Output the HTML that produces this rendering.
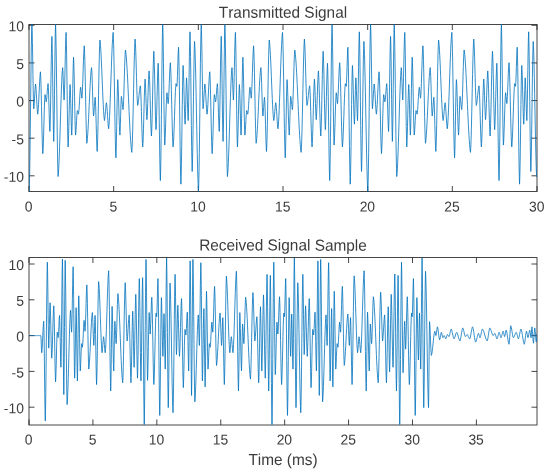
<!DOCTYPE html>
<html><head><meta charset="utf-8"><title>Signals</title>
<style>
html,body{margin:0;padding:0;background:#fff;}
body{width:550px;height:473px;position:relative;overflow:hidden;font-family:"Liberation Sans",sans-serif;}
svg text{font-family:"Liberation Sans",sans-serif;text-rendering:geometricPrecision;font-kerning:none;}
</style></head><body>
<svg width="550" height="473" viewBox="0 0 550 473" style="position:absolute;left:0;top:0"><defs><clipPath id="c1"><rect x="29.0" y="24.5" width="508.0" height="167.0"/></clipPath><clipPath id="c2"><rect x="29.0" y="257.5" width="508.0" height="167.5"/></clipPath></defs><rect x="29.0" y="24.5" width="508.0" height="167.0" fill="none" stroke="#262626" stroke-width="1" opacity="0.85"/><path d="M29.00,191.5v-5.5 M29.00,24.5v5.5 M113.66,191.5v-5.5 M113.66,24.5v5.5 M198.33,191.5v-5.5 M198.33,24.5v5.5 M283.00,191.5v-5.5 M283.00,24.5v5.5 M367.66,191.5v-5.5 M367.66,24.5v5.5 M452.32,191.5v-5.5 M452.32,24.5v5.5 M536.99,191.5v-5.5 M536.99,24.5v5.5 M29.0,175.80h5.5 M537.0,175.80h-5.5 M29.0,138.18h5.5 M537.0,138.18h-5.5 M29.0,100.55h5.5 M537.0,100.55h-5.5 M29.0,62.92h5.5 M537.0,62.92h-5.5 M29.0,25.30h5.5 M537.0,25.30h-5.5 " stroke="#262626" stroke-width="1" fill="none" opacity="0.85"/><rect x="29.0" y="257.5" width="508.0" height="167.5" fill="none" stroke="#262626" stroke-width="1" opacity="0.85"/><path d="M29.00,425.0v-5.5 M29.00,257.5v5.5 M92.91,425.0v-5.5 M92.91,257.5v5.5 M156.83,425.0v-5.5 M156.83,257.5v5.5 M220.75,425.0v-5.5 M220.75,257.5v5.5 M284.66,425.0v-5.5 M284.66,257.5v5.5 M348.57,425.0v-5.5 M348.57,257.5v5.5 M412.49,425.0v-5.5 M412.49,257.5v5.5 M476.40,425.0v-5.5 M476.40,257.5v5.5 M29.0,407.20h5.5 M537.0,407.20h-5.5 M29.0,371.40h5.5 M537.0,371.40h-5.5 M29.0,335.60h5.5 M537.0,335.60h-5.5 M29.0,299.80h5.5 M537.0,299.80h-5.5 M29.0,264.00h5.5 M537.0,264.00h-5.5 " stroke="#262626" stroke-width="1" fill="none" opacity="0.85"/><polyline clip-path="url(#c1)" points="29.18,191.45 29.45,183.56 29.73,170.21 30.00,152.22 30.27,130.86 30.55,107.73 30.82,84.59 31.09,63.23 31.36,45.24 31.64,31.89 31.91,24.00 32.17,30.57 32.43,42.43 32.69,57.95 32.95,74.78 33.21,90.30 33.47,102.16 33.73,108.73 33.99,106.81 34.25,103.35 34.51,98.82 34.77,93.91 35.03,89.38 35.29,85.92 35.55,84.00 35.82,85.94 36.09,89.36 36.36,93.92 36.64,99.09 36.91,104.27 37.18,108.82 37.45,112.25 37.73,114.18 38.00,112.19 38.27,108.81 38.55,104.26 38.82,98.85 39.09,93.00 39.36,87.15 39.64,81.74 39.91,77.19 40.18,73.81 40.45,71.82 40.72,76.27 40.98,83.97 41.24,94.32 41.51,106.39 41.77,119.06 42.03,131.14 42.29,141.48 42.56,149.18 42.82,153.64 43.09,149.85 43.36,143.15 43.64,134.22 43.91,124.09 44.18,113.96 44.45,105.03 44.73,98.34 45.00,94.55 45.25,95.47 45.51,97.18 45.76,99.19 46.02,100.90 46.27,101.82 46.53,100.41 46.79,97.86 47.05,94.53 47.31,90.92 47.57,87.59 47.83,85.05 48.09,83.64 48.35,87.34 48.61,94.04 48.87,102.80 49.13,112.29 49.39,121.05 49.65,127.75 49.91,131.45 50.16,125.36 50.41,114.57 50.66,100.21 50.91,83.91 51.16,67.61 51.41,53.24 51.66,42.46 51.91,36.36 52.17,44.51 52.43,59.22 52.69,78.47 52.95,99.35 53.21,118.60 53.47,133.31 53.73,141.45 53.99,132.35 54.25,115.91 54.51,94.39 54.77,71.06 55.03,49.55 55.29,33.10 55.55,24.00 55.83,32.30 56.11,46.66 56.39,65.95 56.68,88.46 56.96,112.09 57.24,134.60 57.53,153.88 57.81,168.24 58.09,176.55 58.39,173.53 58.70,168.89 59.00,162.73 59.30,155.22 59.61,146.60 59.91,137.14 60.21,127.16 60.52,117.02 60.82,107.04 61.12,97.59 61.42,88.96 61.73,81.45 62.03,75.29 62.33,70.65 62.64,67.64 62.88,70.77 63.12,76.54 63.36,83.82 63.61,91.10 63.85,96.86 64.09,100.00 64.34,95.66 64.59,87.99 64.84,77.78 65.09,66.18 65.34,54.59 65.59,44.37 65.84,36.70 66.09,32.36 66.34,39.71 66.59,52.70 66.84,70.00 67.09,89.64 67.34,109.27 67.59,126.58 67.84,139.56 68.09,146.91 68.34,142.91 68.59,135.84 68.84,126.42 69.09,115.73 69.34,105.04 69.59,95.62 69.84,88.55 70.09,84.55 70.36,89.44 70.64,98.45 70.91,109.82 71.18,121.19 71.45,130.19 71.73,135.09 71.99,129.06 72.25,118.17 72.51,103.91 72.77,88.45 73.03,74.20 73.29,63.31 73.55,57.27 73.80,62.26 74.05,71.09 74.30,82.84 74.55,96.18 74.80,109.52 75.05,121.28 75.30,130.10 75.55,135.09 75.81,133.19 76.06,129.75 76.32,125.26 76.58,120.38 76.84,115.88 77.10,112.45 77.36,110.55 77.58,111.01 77.80,111.86 78.02,112.87 78.24,113.72 78.45,114.18 78.73,112.46 79.00,109.41 79.27,105.34 79.55,100.73 79.82,96.11 80.09,92.05 80.36,89.00 80.64,87.27 80.89,88.66 81.15,91.22 81.40,94.23 81.65,96.80 81.91,98.18 82.17,95.33 82.43,90.40 82.70,83.78 82.96,76.06 83.22,67.94 83.48,60.22 83.75,53.60 84.01,48.67 84.27,45.82 84.56,51.12 84.84,60.30 85.12,72.62 85.40,87.00 85.69,102.09 85.97,116.47 86.25,128.80 86.54,137.97 86.82,143.27 87.11,141.35 87.41,138.42 87.70,134.56 88.00,129.85 88.30,124.42 88.59,118.42 88.89,112.04 89.18,105.45 89.48,98.87 89.77,92.49 90.07,86.49 90.36,81.06 90.66,76.35 90.95,72.49 91.25,69.56 91.55,67.64 91.80,70.74 92.05,76.22 92.30,83.53 92.55,91.82 92.80,100.11 93.05,107.41 93.30,112.90 93.55,116.00 93.82,114.19 94.09,110.85 94.36,106.64 94.64,102.42 94.91,99.09 95.18,97.27 95.43,100.75 95.68,106.89 95.93,115.07 96.18,124.36 96.43,133.65 96.68,141.84 96.93,147.98 97.18,151.45 97.45,146.20 97.73,137.32 98.00,125.34 98.27,111.13 98.55,95.73 98.82,80.33 99.09,66.11 99.36,54.14 99.64,45.25 99.91,40.00 100.21,42.23 100.52,45.66 100.82,50.22 101.12,55.77 101.42,62.15 101.73,69.14 102.03,76.52 102.33,84.02 102.64,91.40 102.94,98.40 103.24,104.77 103.55,110.33 103.85,114.89 104.15,118.32 104.45,120.55 104.70,119.40 104.95,117.38 105.20,114.69 105.45,111.64 105.70,108.58 105.95,105.89 106.20,103.87 106.45,102.73 106.73,104.39 107.00,107.34 107.27,111.27 107.55,115.73 107.82,120.18 108.09,124.11 108.36,127.06 108.64,128.73 108.94,126.06 109.24,121.96 109.55,116.50 109.85,109.86 110.15,102.23 110.45,93.86 110.76,85.03 111.06,76.06 111.36,67.23 111.67,58.86 111.97,51.23 112.27,44.59 112.58,39.13 112.88,35.03 113.18,32.36 113.45,38.28 113.73,48.28 114.00,61.75 114.27,77.76 114.55,95.09 114.82,112.42 115.09,128.43 115.36,141.91 115.64,151.91 115.91,157.82 116.17,151.76 116.43,140.81 116.69,126.49 116.95,110.96 117.21,96.64 117.47,85.70 117.73,79.64 118.00,83.19 118.27,89.48 118.55,97.86 118.82,107.36 119.09,116.87 119.36,125.25 119.64,131.53 119.91,135.09 120.15,131.34 120.39,124.44 120.64,115.73 120.88,107.01 121.12,100.12 121.36,96.36 121.61,97.39 121.86,99.25 122.10,101.68 122.35,104.32 122.60,106.75 122.84,108.61 123.09,109.64 123.35,106.39 123.62,100.78 123.88,93.24 124.14,84.44 124.40,75.20 124.67,66.40 124.93,58.86 125.19,53.25 125.45,50.00 125.76,51.86 126.06,54.52 126.36,57.94 126.67,62.07 126.97,66.88 127.27,72.26 127.58,78.15 127.88,84.44 128.18,91.02 128.48,97.77 128.79,104.59 129.09,111.35 129.39,117.93 129.70,124.21 130.00,130.10 130.30,135.49 130.61,140.29 130.91,144.43 131.21,147.85 131.52,150.50 131.82,152.36 132.12,147.67 132.41,139.89 132.71,129.41 133.01,116.83 133.31,102.91 133.60,88.54 133.90,74.62 134.20,62.04 134.50,51.56 134.79,43.79 135.09,39.09 135.37,42.70 135.66,48.95 135.94,57.34 136.22,67.13 136.51,77.41 136.79,87.20 137.07,95.60 137.35,101.84 137.64,105.45 137.91,104.53 138.18,102.96 138.45,100.85 138.73,98.35 139.00,95.64 139.27,92.92 139.55,90.42 139.82,88.31 140.09,86.74 140.36,85.82 140.63,89.14 140.89,94.89 141.15,102.62 141.41,111.63 141.68,121.09 141.94,130.11 142.20,137.83 142.46,143.58 142.73,146.91 142.99,143.22 143.25,136.83 143.52,128.26 143.78,118.25 144.04,107.75 144.30,97.74 144.57,89.17 144.83,82.78 145.09,79.09 145.35,82.23 145.61,87.91 145.87,95.34 146.13,103.39 146.39,110.82 146.65,116.49 146.91,119.64 147.18,116.51 147.45,110.99 147.73,103.63 148.00,95.27 148.27,86.92 148.55,79.56 148.82,74.03 149.09,70.91 149.35,74.45 149.62,80.58 149.88,88.81 150.14,98.41 150.40,108.50 150.67,118.10 150.93,126.33 151.19,132.46 151.45,136.00 151.72,131.39 151.98,123.41 152.24,112.70 152.51,100.20 152.77,87.07 153.03,74.57 153.29,63.86 153.56,55.89 153.82,51.27 154.09,56.30 154.36,65.18 154.64,77.02 154.91,90.45 155.18,103.89 155.45,115.73 155.73,124.61 156.00,129.64 156.27,125.38 156.55,117.86 156.82,107.83 157.09,96.45 157.36,85.08 157.64,75.05 157.91,67.53 158.18,63.27 158.45,70.79 158.73,84.09 159.00,101.80 159.27,121.91 159.55,142.01 159.82,159.73 160.09,173.02 160.36,180.55 160.63,172.02 160.89,157.29 161.15,137.50 161.41,114.40 161.68,90.15 161.94,67.05 162.20,47.26 162.46,32.52 162.73,24.00 162.98,31.77 163.23,45.50 163.48,63.79 163.73,84.55 163.98,105.31 164.23,123.60 164.48,137.32 164.73,145.09 165.00,141.73 165.27,135.80 165.55,127.89 165.82,118.91 166.09,109.93 166.36,102.02 166.64,96.09 166.91,92.73 167.16,94.11 167.42,96.67 167.67,99.69 167.93,102.25 168.18,103.64 168.45,101.01 168.73,96.37 169.00,90.20 169.27,83.18 169.55,76.17 169.82,69.99 170.09,65.35 170.36,62.73 170.64,66.69 170.91,73.41 171.18,82.45 171.45,93.19 171.73,104.82 172.00,116.45 172.27,127.19 172.55,136.23 172.82,142.94 173.09,146.91 173.38,143.93 173.67,138.88 173.96,132.09 174.25,124.01 174.55,115.27 174.84,106.53 175.13,98.46 175.42,91.66 175.71,86.62 176.00,83.64 176.23,84.12 176.45,85.00 176.68,85.88 176.91,86.36 177.18,82.58 177.45,75.61 177.73,66.82 178.00,58.02 178.27,51.06 178.55,47.27 178.81,54.73 179.07,67.61 179.33,84.92 179.60,105.12 179.86,126.33 180.12,146.53 180.38,163.84 180.65,176.73 180.91,184.18 181.18,176.57 181.45,163.11 181.73,145.17 182.00,124.82 182.27,104.46 182.55,86.53 182.82,73.07 183.09,65.45 183.34,69.22 183.59,75.88 183.84,84.75 184.09,94.82 184.34,104.89 184.59,113.76 184.84,120.41 185.09,124.18 185.33,119.69 185.58,111.43 185.82,101.00 186.06,90.57 186.30,82.31 186.55,77.82 186.82,81.96 187.09,89.57 187.36,99.18 187.64,108.80 187.91,116.41 188.18,120.55 188.44,113.67 188.70,101.25 188.96,84.99 189.22,67.37 189.48,51.12 189.74,38.70 190.00,31.82 190.27,40.77 190.55,56.61 190.82,77.70 191.09,101.64 191.36,125.58 191.64,146.67 191.91,162.50 192.18,171.45 192.44,164.38 192.71,152.14 192.97,135.70 193.23,116.52 193.49,96.39 193.76,77.20 194.02,60.77 194.28,48.53 194.55,41.45 194.85,46.44 195.16,54.39 195.46,65.04 195.77,77.98 196.07,92.65 196.38,108.40 196.68,124.51 196.99,140.26 197.29,154.93 197.60,167.87 197.90,178.52 198.21,186.47 198.51,191.45 198.78,183.56 199.06,170.21 199.33,152.22 199.60,130.86 199.88,107.73 200.15,84.59 200.42,63.23 200.69,45.24 200.97,31.89 201.24,24.00 201.50,30.57 201.76,42.43 202.02,57.95 202.28,74.78 202.54,90.30 202.80,102.16 203.06,108.73 203.32,106.81 203.58,103.35 203.84,98.82 204.10,93.91 204.36,89.38 204.62,85.92 204.88,84.00 205.15,85.94 205.42,89.36 205.69,93.92 205.97,99.09 206.24,104.27 206.51,108.82 206.78,112.25 207.06,114.18 207.33,112.19 207.60,108.81 207.88,104.26 208.15,98.85 208.42,93.00 208.69,87.15 208.97,81.74 209.24,77.19 209.51,73.81 209.78,71.82 210.05,76.27 210.31,83.97 210.57,94.32 210.84,106.39 211.10,119.06 211.36,131.14 211.62,141.48 211.89,149.18 212.15,153.64 212.42,149.85 212.69,143.15 212.97,134.22 213.24,124.09 213.51,113.96 213.78,105.03 214.06,98.34 214.33,94.55 214.58,95.47 214.84,97.18 215.09,99.19 215.35,100.90 215.60,101.82 215.86,100.41 216.12,97.86 216.38,94.53 216.64,90.92 216.90,87.59 217.16,85.05 217.42,83.64 217.68,87.34 217.94,94.04 218.20,102.80 218.46,112.29 218.72,121.05 218.98,127.75 219.24,131.45 219.49,125.36 219.74,114.57 219.99,100.21 220.24,83.91 220.49,67.61 220.74,53.24 220.99,42.46 221.24,36.36 221.50,44.51 221.76,59.22 222.02,78.47 222.28,99.35 222.54,118.60 222.80,133.31 223.06,141.45 223.32,132.35 223.58,115.91 223.84,94.39 224.10,71.06 224.36,49.55 224.62,33.10 224.88,24.00 225.16,32.30 225.44,46.66 225.72,65.95 226.01,88.46 226.29,112.09 226.57,134.60 226.86,153.88 227.14,168.24 227.42,176.55 227.72,173.53 228.03,168.89 228.33,162.73 228.63,155.22 228.94,146.60 229.24,137.14 229.54,127.16 229.85,117.02 230.15,107.04 230.45,97.59 230.75,88.96 231.06,81.45 231.36,75.29 231.66,70.65 231.97,67.64 232.21,70.77 232.45,76.54 232.69,83.82 232.94,91.10 233.18,96.86 233.42,100.00 233.67,95.66 233.92,87.99 234.17,77.78 234.42,66.18 234.67,54.59 234.92,44.37 235.17,36.70 235.42,32.36 235.67,39.71 235.92,52.70 236.17,70.00 236.42,89.64 236.67,109.27 236.92,126.58 237.17,139.56 237.42,146.91 237.67,142.91 237.92,135.84 238.17,126.42 238.42,115.73 238.67,105.04 238.92,95.62 239.17,88.55 239.42,84.55 239.69,89.44 239.97,98.45 240.24,109.82 240.51,121.19 240.78,130.19 241.06,135.09 241.32,129.06 241.58,118.17 241.84,103.91 242.10,88.45 242.36,74.20 242.62,63.31 242.88,57.27 243.13,62.26 243.38,71.09 243.63,82.84 243.88,96.18 244.13,109.52 244.38,121.28 244.63,130.10 244.88,135.09 245.14,133.19 245.39,129.75 245.65,125.26 245.91,120.38 246.17,115.88 246.43,112.45 246.69,110.55 246.91,111.01 247.13,111.86 247.35,112.87 247.57,113.72 247.78,114.18 248.06,112.46 248.33,109.41 248.60,105.34 248.88,100.73 249.15,96.11 249.42,92.05 249.69,89.00 249.97,87.27 250.22,88.66 250.48,91.22 250.73,94.23 250.98,96.80 251.24,98.18 251.50,95.33 251.76,90.40 252.03,83.78 252.29,76.06 252.55,67.94 252.81,60.22 253.08,53.60 253.34,48.67 253.60,45.82 253.89,51.12 254.17,60.30 254.45,72.62 254.73,87.00 255.02,102.09 255.30,116.47 255.58,128.80 255.87,137.97 256.15,143.27 256.44,141.35 256.74,138.42 257.03,134.56 257.33,129.85 257.63,124.42 257.92,118.42 258.22,112.04 258.51,105.45 258.81,98.87 259.10,92.49 259.40,86.49 259.69,81.06 259.99,76.35 260.28,72.49 260.58,69.56 260.88,67.64 261.13,70.74 261.38,76.22 261.63,83.53 261.88,91.82 262.13,100.11 262.38,107.41 262.63,112.90 262.88,116.00 263.15,114.19 263.42,110.85 263.69,106.64 263.97,102.42 264.24,99.09 264.51,97.27 264.76,100.75 265.01,106.89 265.26,115.07 265.51,124.36 265.76,133.65 266.01,141.84 266.26,147.98 266.51,151.45 266.78,146.20 267.06,137.32 267.33,125.34 267.60,111.13 267.88,95.73 268.15,80.33 268.42,66.11 268.69,54.14 268.97,45.25 269.24,40.00 269.54,42.23 269.85,45.66 270.15,50.22 270.45,55.77 270.75,62.15 271.06,69.14 271.36,76.52 271.66,84.02 271.97,91.40 272.27,98.40 272.57,104.77 272.88,110.33 273.18,114.89 273.48,118.32 273.78,120.55 274.03,119.40 274.28,117.38 274.53,114.69 274.78,111.64 275.03,108.58 275.28,105.89 275.53,103.87 275.78,102.73 276.06,104.39 276.33,107.34 276.60,111.27 276.88,115.73 277.15,120.18 277.42,124.11 277.69,127.06 277.97,128.73 278.27,126.06 278.57,121.96 278.88,116.50 279.18,109.86 279.48,102.23 279.78,93.86 280.09,85.03 280.39,76.06 280.69,67.23 281.00,58.86 281.30,51.23 281.60,44.59 281.91,39.13 282.21,35.03 282.51,32.36 282.78,38.28 283.06,48.28 283.33,61.75 283.60,77.76 283.88,95.09 284.15,112.42 284.42,128.43 284.69,141.91 284.97,151.91 285.24,157.82 285.50,151.76 285.76,140.81 286.02,126.49 286.28,110.96 286.54,96.64 286.80,85.70 287.06,79.64 287.33,83.19 287.60,89.48 287.88,97.86 288.15,107.36 288.42,116.87 288.69,125.25 288.97,131.53 289.24,135.09 289.48,131.34 289.72,124.44 289.97,115.73 290.21,107.01 290.45,100.12 290.69,96.36 290.94,97.39 291.19,99.25 291.43,101.68 291.68,104.32 291.93,106.75 292.17,108.61 292.42,109.64 292.68,106.39 292.95,100.78 293.21,93.24 293.47,84.44 293.73,75.20 294.00,66.40 294.26,58.86 294.52,53.25 294.78,50.00 295.09,51.86 295.39,54.52 295.69,57.94 296.00,62.07 296.30,66.88 296.60,72.26 296.91,78.15 297.21,84.44 297.51,91.02 297.81,97.77 298.12,104.59 298.42,111.35 298.72,117.93 299.03,124.21 299.33,130.10 299.63,135.49 299.94,140.29 300.24,144.43 300.54,147.85 300.85,150.50 301.15,152.36 301.45,147.67 301.74,139.89 302.04,129.41 302.34,116.83 302.64,102.91 302.93,88.54 303.23,74.62 303.53,62.04 303.83,51.56 304.12,43.79 304.42,39.09 304.70,42.70 304.99,48.95 305.27,57.34 305.55,67.13 305.84,77.41 306.12,87.20 306.40,95.60 306.68,101.84 306.97,105.45 307.24,104.53 307.51,102.96 307.78,100.85 308.06,98.35 308.33,95.64 308.60,92.92 308.88,90.42 309.15,88.31 309.42,86.74 309.69,85.82 309.96,89.14 310.22,94.89 310.48,102.62 310.74,111.63 311.01,121.09 311.27,130.11 311.53,137.83 311.79,143.58 312.06,146.91 312.32,143.22 312.58,136.83 312.85,128.26 313.11,118.25 313.37,107.75 313.63,97.74 313.90,89.17 314.16,82.78 314.42,79.09 314.68,82.23 314.94,87.91 315.20,95.34 315.46,103.39 315.72,110.82 315.98,116.49 316.24,119.64 316.51,116.51 316.78,110.99 317.06,103.63 317.33,95.27 317.60,86.92 317.88,79.56 318.15,74.03 318.42,70.91 318.68,74.45 318.95,80.58 319.21,88.81 319.47,98.41 319.73,108.50 320.00,118.10 320.26,126.33 320.52,132.46 320.78,136.00 321.05,131.39 321.31,123.41 321.57,112.70 321.84,100.20 322.10,87.07 322.36,74.57 322.62,63.86 322.89,55.89 323.15,51.27 323.42,56.30 323.69,65.18 323.97,77.02 324.24,90.45 324.51,103.89 324.78,115.73 325.06,124.61 325.33,129.64 325.60,125.38 325.88,117.86 326.15,107.83 326.42,96.45 326.69,85.08 326.97,75.05 327.24,67.53 327.51,63.27 327.78,70.79 328.06,84.09 328.33,101.80 328.60,121.91 328.88,142.01 329.15,159.73 329.42,173.02 329.69,180.55 329.96,172.02 330.22,157.29 330.48,137.50 330.74,114.40 331.01,90.15 331.27,67.05 331.53,47.26 331.79,32.52 332.06,24.00 332.31,31.77 332.56,45.50 332.81,63.79 333.06,84.55 333.31,105.31 333.56,123.60 333.81,137.32 334.06,145.09 334.33,141.73 334.60,135.80 334.88,127.89 335.15,118.91 335.42,109.93 335.69,102.02 335.97,96.09 336.24,92.73 336.49,94.11 336.75,96.67 337.00,99.69 337.26,102.25 337.51,103.64 337.78,101.01 338.06,96.37 338.33,90.20 338.60,83.18 338.88,76.17 339.15,69.99 339.42,65.35 339.69,62.73 339.97,66.69 340.24,73.41 340.51,82.45 340.78,93.19 341.06,104.82 341.33,116.45 341.60,127.19 341.88,136.23 342.15,142.94 342.42,146.91 342.71,143.93 343.00,138.88 343.29,132.09 343.58,124.01 343.88,115.27 344.17,106.53 344.46,98.46 344.75,91.66 345.04,86.62 345.33,83.64 345.56,84.12 345.78,85.00 346.01,85.88 346.24,86.36 346.51,82.58 346.78,75.61 347.06,66.82 347.33,58.02 347.60,51.06 347.88,47.27 348.14,54.73 348.40,67.61 348.66,84.92 348.93,105.12 349.19,126.33 349.45,146.53 349.71,163.84 349.98,176.73 350.24,184.18 350.51,176.57 350.78,163.11 351.06,145.17 351.33,124.82 351.60,104.46 351.88,86.53 352.15,73.07 352.42,65.45 352.67,69.22 352.92,75.88 353.17,84.75 353.42,94.82 353.67,104.89 353.92,113.76 354.17,120.41 354.42,124.18 354.66,119.69 354.91,111.43 355.15,101.00 355.39,90.57 355.63,82.31 355.88,77.82 356.15,81.96 356.42,89.57 356.69,99.18 356.97,108.80 357.24,116.41 357.51,120.55 357.77,113.67 358.03,101.25 358.29,84.99 358.55,67.37 358.81,51.12 359.07,38.70 359.33,31.82 359.60,40.77 359.88,56.61 360.15,77.70 360.42,101.64 360.69,125.58 360.97,146.67 361.24,162.50 361.51,171.45 361.77,164.38 362.04,152.14 362.30,135.70 362.56,116.52 362.82,96.39 363.09,77.20 363.35,60.77 363.61,48.53 363.88,41.45 364.18,46.44 364.49,54.39 364.79,65.04 365.10,77.98 365.40,92.65 365.71,108.40 366.01,124.51 366.32,140.26 366.62,154.93 366.93,167.87 367.23,178.52 367.54,186.47 367.84,191.45 368.11,183.56 368.39,170.21 368.66,152.22 368.93,130.86 369.21,107.73 369.48,84.59 369.75,63.23 370.02,45.24 370.30,31.89 370.57,24.00 370.83,30.57 371.09,42.43 371.35,57.95 371.61,74.78 371.87,90.30 372.13,102.16 372.39,108.73 372.65,106.81 372.91,103.35 373.17,98.82 373.43,93.91 373.69,89.38 373.95,85.92 374.21,84.00 374.48,85.94 374.75,89.36 375.02,93.92 375.30,99.09 375.57,104.27 375.84,108.82 376.11,112.25 376.39,114.18 376.66,112.19 376.93,108.81 377.21,104.26 377.48,98.85 377.75,93.00 378.02,87.15 378.30,81.74 378.57,77.19 378.84,73.81 379.11,71.82 379.38,76.27 379.64,83.97 379.90,94.32 380.17,106.39 380.43,119.06 380.69,131.14 380.95,141.48 381.22,149.18 381.48,153.64 381.75,149.85 382.02,143.15 382.30,134.22 382.57,124.09 382.84,113.96 383.11,105.03 383.39,98.34 383.66,94.55 383.91,95.47 384.17,97.18 384.42,99.19 384.68,100.90 384.93,101.82 385.19,100.41 385.45,97.86 385.71,94.53 385.97,90.92 386.23,87.59 386.49,85.05 386.75,83.64 387.01,87.34 387.27,94.04 387.53,102.80 387.79,112.29 388.05,121.05 388.31,127.75 388.57,131.45 388.82,125.36 389.07,114.57 389.32,100.21 389.57,83.91 389.82,67.61 390.07,53.24 390.32,42.46 390.57,36.36 390.83,44.51 391.09,59.22 391.35,78.47 391.61,99.35 391.87,118.60 392.13,133.31 392.39,141.45 392.65,132.35 392.91,115.91 393.17,94.39 393.43,71.06 393.69,49.55 393.95,33.10 394.21,24.00 394.49,32.30 394.77,46.66 395.05,65.95 395.34,88.46 395.62,112.09 395.90,134.60 396.19,153.88 396.47,168.24 396.75,176.55 397.05,173.53 397.36,168.89 397.66,162.73 397.96,155.22 398.27,146.60 398.57,137.14 398.87,127.16 399.18,117.02 399.48,107.04 399.78,97.59 400.08,88.96 400.39,81.45 400.69,75.29 400.99,70.65 401.30,67.64 401.54,70.77 401.78,76.54 402.02,83.82 402.27,91.10 402.51,96.86 402.75,100.00 403.00,95.66 403.25,87.99 403.50,77.78 403.75,66.18 404.00,54.59 404.25,44.37 404.50,36.70 404.75,32.36 405.00,39.71 405.25,52.70 405.50,70.00 405.75,89.64 406.00,109.27 406.25,126.58 406.50,139.56 406.75,146.91 407.00,142.91 407.25,135.84 407.50,126.42 407.75,115.73 408.00,105.04 408.25,95.62 408.50,88.55 408.75,84.55 409.02,89.44 409.30,98.45 409.57,109.82 409.84,121.19 410.11,130.19 410.39,135.09 410.65,129.06 410.91,118.17 411.17,103.91 411.43,88.45 411.69,74.20 411.95,63.31 412.21,57.27 412.46,62.26 412.71,71.09 412.96,82.84 413.21,96.18 413.46,109.52 413.71,121.28 413.96,130.10 414.21,135.09 414.47,133.19 414.72,129.75 414.98,125.26 415.24,120.38 415.50,115.88 415.76,112.45 416.02,110.55 416.24,111.01 416.46,111.86 416.68,112.87 416.90,113.72 417.11,114.18 417.39,112.46 417.66,109.41 417.93,105.34 418.21,100.73 418.48,96.11 418.75,92.05 419.02,89.00 419.30,87.27 419.55,88.66 419.81,91.22 420.06,94.23 420.31,96.80 420.57,98.18 420.83,95.33 421.09,90.40 421.36,83.78 421.62,76.06 421.88,67.94 422.14,60.22 422.41,53.60 422.67,48.67 422.93,45.82 423.22,51.12 423.50,60.30 423.78,72.62 424.06,87.00 424.35,102.09 424.63,116.47 424.91,128.80 425.20,137.97 425.48,143.27 425.77,141.35 426.07,138.42 426.36,134.56 426.66,129.85 426.96,124.42 427.25,118.42 427.55,112.04 427.84,105.45 428.14,98.87 428.43,92.49 428.73,86.49 429.02,81.06 429.32,76.35 429.61,72.49 429.91,69.56 430.21,67.64 430.46,70.74 430.71,76.22 430.96,83.53 431.21,91.82 431.46,100.11 431.71,107.41 431.96,112.90 432.21,116.00 432.48,114.19 432.75,110.85 433.02,106.64 433.30,102.42 433.57,99.09 433.84,97.27 434.09,100.75 434.34,106.89 434.59,115.07 434.84,124.36 435.09,133.65 435.34,141.84 435.59,147.98 435.84,151.45 436.11,146.20 436.39,137.32 436.66,125.34 436.93,111.13 437.21,95.73 437.48,80.33 437.75,66.11 438.02,54.14 438.30,45.25 438.57,40.00 438.87,42.23 439.18,45.66 439.48,50.22 439.78,55.77 440.08,62.15 440.39,69.14 440.69,76.52 440.99,84.02 441.30,91.40 441.60,98.40 441.90,104.77 442.21,110.33 442.51,114.89 442.81,118.32 443.11,120.55 443.36,119.40 443.61,117.38 443.86,114.69 444.11,111.64 444.36,108.58 444.61,105.89 444.86,103.87 445.11,102.73 445.39,104.39 445.66,107.34 445.93,111.27 446.21,115.73 446.48,120.18 446.75,124.11 447.02,127.06 447.30,128.73 447.60,126.06 447.90,121.96 448.21,116.50 448.51,109.86 448.81,102.23 449.11,93.86 449.42,85.03 449.72,76.06 450.02,67.23 450.33,58.86 450.63,51.23 450.93,44.59 451.24,39.13 451.54,35.03 451.84,32.36 452.11,38.28 452.39,48.28 452.66,61.75 452.93,77.76 453.21,95.09 453.48,112.42 453.75,128.43 454.02,141.91 454.30,151.91 454.57,157.82 454.83,151.76 455.09,140.81 455.35,126.49 455.61,110.96 455.87,96.64 456.13,85.70 456.39,79.64 456.66,83.19 456.93,89.48 457.21,97.86 457.48,107.36 457.75,116.87 458.02,125.25 458.30,131.53 458.57,135.09 458.81,131.34 459.05,124.44 459.30,115.73 459.54,107.01 459.78,100.12 460.02,96.36 460.27,97.39 460.52,99.25 460.76,101.68 461.01,104.32 461.26,106.75 461.50,108.61 461.75,109.64 462.01,106.39 462.28,100.78 462.54,93.24 462.80,84.44 463.06,75.20 463.33,66.40 463.59,58.86 463.85,53.25 464.11,50.00 464.42,51.86 464.72,54.52 465.02,57.94 465.33,62.07 465.63,66.88 465.93,72.26 466.24,78.15 466.54,84.44 466.84,91.02 467.14,97.77 467.45,104.59 467.75,111.35 468.05,117.93 468.36,124.21 468.66,130.10 468.96,135.49 469.27,140.29 469.57,144.43 469.87,147.85 470.18,150.50 470.48,152.36 470.78,147.67 471.07,139.89 471.37,129.41 471.67,116.83 471.97,102.91 472.26,88.54 472.56,74.62 472.86,62.04 473.16,51.56 473.45,43.79 473.75,39.09 474.03,42.70 474.32,48.95 474.60,57.34 474.88,67.13 475.17,77.41 475.45,87.20 475.73,95.60 476.01,101.84 476.30,105.45 476.57,104.53 476.84,102.96 477.11,100.85 477.39,98.35 477.66,95.64 477.93,92.92 478.21,90.42 478.48,88.31 478.75,86.74 479.02,85.82 479.29,89.14 479.55,94.89 479.81,102.62 480.07,111.63 480.34,121.09 480.60,130.11 480.86,137.83 481.12,143.58 481.39,146.91 481.65,143.22 481.91,136.83 482.18,128.26 482.44,118.25 482.70,107.75 482.96,97.74 483.23,89.17 483.49,82.78 483.75,79.09 484.01,82.23 484.27,87.91 484.53,95.34 484.79,103.39 485.05,110.82 485.31,116.49 485.57,119.64 485.84,116.51 486.11,110.99 486.39,103.63 486.66,95.27 486.93,86.92 487.21,79.56 487.48,74.03 487.75,70.91 488.01,74.45 488.28,80.58 488.54,88.81 488.80,98.41 489.06,108.50 489.33,118.10 489.59,126.33 489.85,132.46 490.11,136.00 490.38,131.39 490.64,123.41 490.90,112.70 491.17,100.20 491.43,87.07 491.69,74.57 491.95,63.86 492.22,55.89 492.48,51.27 492.75,56.30 493.02,65.18 493.30,77.02 493.57,90.45 493.84,103.89 494.11,115.73 494.39,124.61 494.66,129.64 494.93,125.38 495.21,117.86 495.48,107.83 495.75,96.45 496.02,85.08 496.30,75.05 496.57,67.53 496.84,63.27 497.11,70.79 497.39,84.09 497.66,101.80 497.93,121.91 498.21,142.01 498.48,159.73 498.75,173.02 499.02,180.55 499.29,172.02 499.55,157.29 499.81,137.50 500.07,114.40 500.34,90.15 500.60,67.05 500.86,47.26 501.12,32.52 501.39,24.00 501.64,31.77 501.89,45.50 502.14,63.79 502.39,84.55 502.64,105.31 502.89,123.60 503.14,137.32 503.39,145.09 503.66,141.73 503.93,135.80 504.21,127.89 504.48,118.91 504.75,109.93 505.02,102.02 505.30,96.09 505.57,92.73 505.82,94.11 506.08,96.67 506.33,99.69 506.59,102.25 506.84,103.64 507.11,101.01 507.39,96.37 507.66,90.20 507.93,83.18 508.21,76.17 508.48,69.99 508.75,65.35 509.02,62.73 509.30,66.69 509.57,73.41 509.84,82.45 510.11,93.19 510.39,104.82 510.66,116.45 510.93,127.19 511.21,136.23 511.48,142.94 511.75,146.91 512.04,143.93 512.33,138.88 512.62,132.09 512.91,124.01 513.21,115.27 513.50,106.53 513.79,98.46 514.08,91.66 514.37,86.62 514.66,83.64 514.89,84.12 515.11,85.00 515.34,85.88 515.57,86.36 515.84,82.58 516.11,75.61 516.39,66.82 516.66,58.02 516.93,51.06 517.21,47.27 517.47,54.73 517.73,67.61 517.99,84.92 518.26,105.12 518.52,126.33 518.78,146.53 519.04,163.84 519.31,176.73 519.57,184.18 519.84,176.57 520.11,163.11 520.39,145.17 520.66,124.82 520.93,104.46 521.21,86.53 521.48,73.07 521.75,65.45 522.00,69.22 522.25,75.88 522.50,84.75 522.75,94.82 523.00,104.89 523.25,113.76 523.50,120.41 523.75,124.18 523.99,119.69 524.24,111.43 524.48,101.00 524.72,90.57 524.96,82.31 525.21,77.82 525.48,81.96 525.75,89.57 526.02,99.18 526.30,108.80 526.57,116.41 526.84,120.55 527.10,113.67 527.36,101.25 527.62,84.99 527.88,67.37 528.14,51.12 528.40,38.70 528.66,31.82 528.93,40.77 529.21,56.61 529.48,77.70 529.75,101.64 530.02,125.58 530.30,146.67 530.57,162.50 530.84,171.45 531.10,164.38 531.37,152.14 531.63,135.70 531.89,116.52 532.15,96.39 532.42,77.20 532.68,60.77 532.94,48.53 533.21,41.45 533.50,46.46 533.79,54.59 534.08,65.52 534.37,78.73 534.66,93.56 534.95,109.23 535.24,124.89 535.54,139.72 535.83,152.94 536.12,163.87 536.41,171.99 536.70,177.00" fill="none" stroke="#0072BD" stroke-width="0.8" stroke-linejoin="round"/><polyline clip-path="url(#c2)" points="29.20,335.60 29.52,335.60 29.85,335.60 30.17,335.60 30.49,335.60 30.81,335.60 31.14,335.60 31.46,335.60 31.78,335.60 32.10,335.60 32.43,335.60 32.75,335.60 33.07,335.60 33.40,335.60 33.72,335.60 34.04,335.60 34.36,335.60 34.69,335.60 35.01,335.60 35.33,335.60 35.65,335.60 35.98,335.60 36.30,335.60 36.62,335.60 36.95,335.60 37.27,335.60 37.59,335.60 37.91,335.60 38.24,335.60 38.56,335.60 38.88,335.60 39.20,335.60 39.53,335.60 39.85,335.60 40.17,335.60 40.50,335.60 40.82,335.60 41.05,338.64 41.27,344.16 41.50,349.69 41.73,352.73 41.98,350.71 42.23,347.14 42.48,342.39 42.73,337.00 42.98,331.61 43.23,326.86 43.48,323.29 43.73,321.27 43.99,330.93 44.25,348.67 44.51,371.09 44.77,393.51 45.03,411.26 45.29,420.91 45.54,410.73 45.80,392.73 46.06,368.76 46.32,341.55 46.57,314.33 46.83,290.36 47.09,272.36 47.34,262.18 47.57,270.51 47.80,285.83 48.03,305.18 48.26,324.53 48.49,339.85 48.72,348.18 48.94,343.78 49.17,335.68 49.40,325.45 49.63,315.23 49.86,307.13 50.09,302.73 50.36,308.10 50.64,317.98 50.91,330.45 51.18,342.93 51.46,352.81 51.73,358.18 51.99,354.82 52.25,348.89 52.50,340.98 52.76,332.00 53.02,323.02 53.28,315.11 53.53,309.18 53.79,305.82 54.05,311.71 54.30,322.35 54.55,336.27 54.81,351.37 55.06,365.29 55.32,375.93 55.57,381.82 55.85,377.01 56.12,368.17 56.40,357.00 56.67,345.83 56.95,336.99 57.22,332.18 57.46,333.15 57.70,334.91 57.94,336.67 58.18,337.64 58.41,335.49 58.64,331.54 58.87,326.55 59.09,321.55 59.32,317.60 59.55,315.45 59.78,320.48 60.01,329.70 60.24,341.36 60.47,353.02 60.69,362.25 60.92,367.27 61.17,356.79 61.43,337.52 61.68,313.18 61.93,288.84 62.18,269.57 62.43,259.09 62.66,272.22 62.89,296.34 63.12,326.82 63.35,357.30 63.57,381.42 63.80,394.55 64.03,381.54 64.26,357.65 64.49,327.45 64.72,297.26 64.95,273.36 65.18,260.36 65.45,271.54 65.72,291.72 66.00,318.14 66.27,346.77 66.55,373.19 66.82,393.37 67.10,404.55 67.38,401.07 67.67,395.42 67.95,387.83 68.24,378.65 68.52,368.34 68.81,357.45 69.10,346.57 69.38,336.26 69.67,327.08 69.95,319.49 70.24,313.84 70.52,310.36 70.74,313.13 70.96,318.26 71.18,324.29 71.40,329.41 71.62,332.18 71.87,325.84 72.12,314.18 72.38,299.45 72.63,284.73 72.88,273.07 73.13,266.73 73.38,277.53 73.63,297.38 73.88,322.45 74.14,347.53 74.39,367.38 74.64,378.18 74.89,371.35 75.14,358.78 75.39,342.91 75.65,327.04 75.90,314.47 76.15,307.64 76.39,316.93 76.64,334.15 76.89,354.40 77.14,371.61 77.38,380.91 77.61,372.66 77.84,357.51 78.07,338.36 78.30,319.22 78.53,304.06 78.75,295.82 79.01,303.09 79.26,316.47 79.51,333.36 79.76,350.26 80.01,363.63 80.26,370.91 80.49,368.27 80.72,363.41 80.95,357.27 81.18,351.14 81.41,346.28 81.63,343.64 81.84,344.28 82.05,345.45 82.25,346.63 82.46,347.27 82.73,344.67 83.01,339.87 83.28,333.82 83.55,327.76 83.83,322.97 84.10,320.36 84.34,322.30 84.58,325.82 84.82,329.34 85.06,331.27 85.32,327.68 85.57,321.19 85.83,312.70 86.08,303.49 86.34,294.99 86.59,288.50 86.85,284.91 87.12,291.43 87.40,303.22 87.67,318.64 87.94,335.36 88.22,350.78 88.49,362.57 88.77,369.09 89.06,367.00 89.36,363.61 89.66,359.05 89.96,353.54 90.25,347.35 90.55,340.82 90.85,334.28 91.14,328.10 91.44,322.58 91.74,318.02 92.04,314.63 92.33,312.55 92.58,315.73 92.84,321.60 93.09,329.00 93.34,336.40 93.59,342.27 93.84,345.45 94.09,341.65 94.34,334.60 94.58,326.31 94.83,319.26 95.08,315.45 95.33,322.15 95.58,334.45 95.83,350.00 96.08,365.55 96.33,377.85 96.59,384.55 96.84,377.94 97.10,366.28 97.36,350.73 97.61,333.09 97.87,315.45 98.13,299.90 98.39,288.24 98.64,281.64 98.93,284.26 99.21,288.52 99.50,294.26 99.79,301.19 100.07,308.96 100.36,317.18 100.64,325.40 100.93,333.18 101.21,340.11 101.50,345.84 101.79,350.10 102.07,352.73 102.32,351.18 102.57,348.33 102.83,344.73 103.08,341.13 103.33,338.28 103.58,336.73 103.86,338.28 104.13,341.13 104.40,344.73 104.68,348.33 104.95,351.18 105.23,352.73 105.51,349.70 105.80,344.78 106.08,338.17 106.37,330.18 106.66,321.21 106.94,311.73 107.23,302.25 107.51,293.28 107.80,285.28 108.08,278.67 108.37,273.76 108.66,270.73 108.91,278.44 109.17,292.06 109.43,310.21 109.68,330.82 109.94,351.42 110.20,369.58 110.46,383.20 110.71,390.91 110.94,382.72 111.17,367.66 111.40,348.64 111.63,329.61 111.86,314.56 112.08,306.36 112.36,312.62 112.63,324.11 112.91,338.64 113.18,353.16 113.46,364.66 113.73,370.91 113.95,364.61 114.17,352.95 114.39,339.23 114.61,327.57 114.83,321.27 115.09,324.11 115.35,329.36 115.61,335.54 115.87,340.80 116.13,343.64 116.39,339.76 116.64,332.76 116.90,323.60 117.15,313.67 117.40,304.51 117.66,297.51 117.91,293.64 118.21,295.91 118.51,299.35 118.81,303.90 119.11,309.45 119.41,315.85 119.71,322.91 120.01,330.43 120.31,338.18 120.61,345.94 120.91,353.46 121.21,360.52 121.51,366.91 121.82,372.46 122.12,377.01 122.42,380.46 122.72,382.73 122.99,377.28 123.26,367.87 123.54,355.23 123.81,340.47 124.09,324.98 124.36,310.23 124.64,297.58 124.91,288.17 125.18,282.73 125.46,287.24 125.73,295.38 126.01,306.04 126.28,317.60 126.56,328.25 126.83,336.40 127.10,340.91 127.36,339.24 127.62,336.29 127.88,332.37 128.13,327.91 128.39,323.45 128.65,319.52 128.90,316.58 129.16,314.91 129.42,320.17 129.67,329.66 129.93,342.08 130.18,355.55 130.44,367.98 130.69,377.47 130.94,382.73 131.20,377.19 131.45,367.19 131.71,354.10 131.96,339.90 132.22,326.81 132.47,316.81 132.73,311.27 132.96,316.70 133.19,326.67 133.41,339.27 133.64,351.87 133.87,361.85 134.10,367.27 134.37,360.21 134.65,347.22 134.92,330.82 135.20,314.41 135.47,301.43 135.75,294.36 136.00,300.86 136.26,312.59 136.51,327.95 136.76,344.60 137.02,359.95 137.27,371.68 137.53,378.18 137.78,370.46 138.04,356.51 138.29,338.26 138.55,318.47 138.80,300.22 139.06,286.27 139.31,278.55 139.59,288.46 139.86,306.70 140.13,329.73 140.41,352.76 140.68,370.99 140.96,380.91 141.23,370.90 141.51,352.51 141.78,329.27 142.06,306.04 142.33,287.64 142.60,277.64 142.88,291.87 143.15,318.04 143.43,351.09 143.70,384.15 143.98,410.31 144.25,424.55 144.50,411.75 144.76,388.64 145.01,358.40 145.27,325.60 145.52,295.36 145.78,272.25 146.03,259.45 146.28,271.17 146.54,292.70 146.79,319.91 147.04,347.11 147.29,368.65 147.54,380.36 147.82,373.79 148.09,361.71 148.36,346.45 148.64,331.20 148.91,319.12 149.19,312.55 149.43,316.35 149.67,323.27 149.91,330.19 150.15,334.00 150.42,330.44 150.70,323.90 150.97,315.64 151.25,307.37 151.52,300.83 151.79,297.27 152.05,302.87 152.31,312.76 152.57,325.95 152.82,340.91 153.08,355.87 153.34,369.05 153.59,378.95 153.85,384.55 154.13,379.96 154.40,371.86 154.67,361.07 154.95,348.82 155.22,336.57 155.50,325.77 155.77,317.67 156.05,313.09 156.22,313.74 156.39,314.91 156.56,316.08 156.73,316.73 156.98,311.88 157.23,302.91 157.47,292.36 157.72,283.39 157.97,278.55 158.22,289.16 158.48,308.32 158.73,333.40 158.99,360.60 159.24,385.68 159.49,404.84 159.75,415.45 160.02,404.04 160.30,383.05 160.57,356.55 160.85,330.04 161.12,309.05 161.40,297.64 161.65,303.33 161.90,313.79 162.15,327.00 162.40,340.21 162.65,350.67 162.90,356.36 163.12,350.94 163.34,340.90 163.56,329.10 163.78,319.06 164.00,313.64 164.25,320.67 164.50,333.70 164.74,349.03 164.99,362.06 165.24,369.09 165.46,358.29 165.69,338.44 165.92,313.36 166.15,288.29 166.38,268.44 166.61,257.64 166.88,272.17 167.16,298.89 167.43,332.64 167.70,366.39 167.98,393.10 168.25,407.64 168.51,397.98 168.76,380.55 169.02,357.73 169.27,332.99 169.53,310.18 169.78,292.75 170.04,283.09 170.34,289.20 170.64,299.53 170.93,313.46 171.23,330.00 171.53,347.91 171.83,365.82 172.13,382.36 172.43,396.28 172.73,406.62 173.03,412.73 173.29,403.85 173.54,388.17 173.80,367.27 174.06,343.55 174.31,319.82 174.57,298.92 174.83,283.24 175.09,274.36 175.31,282.13 175.54,296.41 175.77,314.45 176.00,332.50 176.23,346.78 176.46,354.55 176.69,349.77 176.92,341.00 177.14,329.91 177.37,318.82 177.60,310.05 177.83,305.27 178.10,310.22 178.38,319.32 178.65,330.82 178.93,342.31 179.20,351.41 179.48,356.36 179.73,352.66 179.99,346.10 180.25,337.37 180.50,327.45 180.76,317.54 181.02,308.81 181.28,302.25 181.53,298.55 181.79,305.45 182.04,317.92 182.30,334.24 182.55,351.94 182.81,368.26 183.06,380.73 183.32,387.64 183.59,382.00 183.86,371.64 184.14,358.55 184.41,345.45 184.69,335.09 184.96,329.45 185.20,330.42 185.44,332.18 185.68,333.94 185.92,334.91 186.15,332.71 186.38,328.66 186.61,323.55 186.84,318.43 187.07,314.38 187.29,312.18 187.52,317.87 187.75,328.33 187.98,341.55 188.21,354.76 188.44,365.22 188.67,370.91 188.92,360.25 189.17,340.66 189.42,315.91 189.67,291.16 189.92,271.57 190.17,260.91 190.40,273.95 190.63,297.91 190.86,328.18 191.09,358.45 191.32,382.42 191.55,395.45 191.77,382.28 192.00,358.05 192.23,327.45 192.46,296.85 192.69,272.63 192.92,259.45 193.19,270.49 193.47,290.42 193.74,316.50 194.01,344.77 194.29,370.86 194.56,390.78 194.84,401.82 195.12,398.61 195.41,393.40 195.70,386.39 195.98,377.92 196.27,368.41 196.55,358.36 196.84,348.32 197.12,338.81 197.41,330.34 197.70,323.33 197.98,318.12 198.27,314.91 198.49,318.78 198.71,325.96 198.93,334.40 199.14,341.58 199.36,345.45 199.62,337.44 199.87,322.70 200.12,304.09 200.37,285.48 200.62,270.74 200.87,262.73 201.12,274.18 201.38,295.23 201.63,321.82 201.88,348.41 202.13,369.46 202.38,380.91 202.63,373.90 202.88,361.01 203.14,344.73 203.39,328.45 203.64,315.56 203.89,308.55 204.14,318.49 204.38,336.90 204.63,358.55 204.88,376.97 205.13,386.91 205.35,377.64 205.58,360.61 205.81,339.09 206.04,317.57 206.27,300.54 206.50,291.27 206.75,298.81 207.00,312.67 207.25,330.18 207.50,347.69 207.75,361.55 208.01,369.09 208.23,366.62 208.46,362.09 208.69,356.36 208.92,350.64 209.15,346.10 209.38,343.64 209.58,344.28 209.79,345.45 209.99,346.63 210.20,347.27 210.47,344.84 210.75,340.37 211.02,334.73 211.30,329.08 211.57,324.61 211.85,322.18 212.09,323.96 212.33,327.18 212.57,330.41 212.81,332.18 213.06,328.63 213.32,322.22 213.57,313.82 213.83,304.72 214.08,296.33 214.33,289.92 214.59,286.36 214.86,292.49 215.14,303.57 215.41,318.05 215.69,333.76 215.96,348.25 216.24,359.32 216.51,365.45 216.81,363.52 217.10,360.38 217.40,356.16 217.70,351.05 218.00,345.33 218.29,339.27 218.59,333.22 218.89,327.49 219.18,322.39 219.48,318.16 219.78,315.02 220.08,313.09 220.33,316.23 220.58,321.99 220.83,329.27 221.08,336.55 221.33,342.32 221.58,345.45 221.83,341.93 222.08,335.39 222.33,327.70 222.57,321.16 222.82,317.64 223.07,324.12 223.32,336.04 223.57,351.09 223.83,366.15 224.08,378.06 224.33,384.55 224.59,377.59 224.84,365.31 225.10,348.94 225.36,330.36 225.61,311.79 225.87,295.42 226.13,283.13 226.39,276.18 226.67,279.01 226.96,283.60 227.24,289.77 227.53,297.23 227.81,305.61 228.10,314.45 228.39,323.30 228.67,331.68 228.96,339.14 229.24,345.31 229.53,349.90 229.81,352.73 230.07,351.18 230.32,348.33 230.57,344.73 230.82,341.13 231.07,338.28 231.32,336.73 231.60,338.28 231.87,341.13 232.15,344.73 232.42,348.33 232.70,351.18 232.97,352.73 233.26,349.72 233.54,344.84 233.83,338.27 234.11,330.33 234.40,321.42 234.68,312.00 234.97,302.58 235.26,293.67 235.54,285.73 235.83,279.16 236.11,274.28 236.40,271.27 236.66,278.95 236.91,292.51 237.17,310.58 237.43,331.09 237.68,351.60 237.94,369.67 238.20,383.24 238.46,390.91 238.68,383.32 238.91,369.36 239.14,351.73 239.37,334.10 239.60,320.14 239.83,312.55 240.10,318.20 240.38,328.60 240.65,341.73 240.92,354.86 241.20,365.25 241.47,370.91 241.69,364.96 241.91,353.94 242.13,340.97 242.35,329.95 242.57,324.00 242.83,326.49 243.09,331.11 243.35,336.53 243.61,341.15 243.87,343.64 244.13,340.04 244.38,333.55 244.64,325.06 244.89,315.85 245.15,307.36 245.40,300.87 245.66,297.27 245.96,299.36 246.26,302.52 246.56,306.70 246.86,311.80 247.16,317.67 247.46,324.15 247.76,331.06 248.06,338.18 248.36,345.30 248.66,352.21 248.96,358.69 249.26,364.57 249.56,369.66 249.86,373.84 250.16,377.01 250.46,379.09 250.73,374.38 251.01,366.23 251.28,355.29 251.56,342.52 251.83,329.12 252.10,316.35 252.38,305.40 252.65,297.26 252.93,292.55 253.20,296.29 253.48,303.06 253.75,311.92 254.02,321.53 254.30,330.39 254.57,337.16 254.85,340.91 255.10,339.36 255.36,336.62 255.62,332.96 255.88,328.82 256.13,324.67 256.39,321.02 256.65,318.28 256.90,316.73 257.16,321.84 257.41,331.08 257.67,343.17 257.92,356.28 258.18,368.37 258.43,377.61 258.69,382.73 258.94,376.84 259.20,366.20 259.45,352.27 259.71,337.18 259.96,323.26 260.22,312.62 260.47,306.73 260.70,312.95 260.93,324.38 261.16,338.82 261.39,353.26 261.61,364.69 261.84,370.91 262.12,363.55 262.39,350.01 262.67,332.91 262.94,315.81 263.21,302.27 263.49,294.91 263.74,301.36 264.00,313.02 264.25,328.28 264.51,344.82 264.76,360.07 265.02,371.73 265.27,378.18 265.53,370.13 265.78,355.60 266.04,336.58 266.29,315.96 266.55,296.94 266.80,282.41 267.05,274.36 267.33,285.66 267.60,306.41 267.88,332.64 268.15,358.86 268.43,379.62 268.70,390.91 268.97,379.72 269.25,359.16 269.52,333.18 269.80,307.20 270.07,286.64 270.35,275.45 270.62,289.90 270.90,316.45 271.17,350.00 271.44,383.55 271.72,410.10 271.99,424.55 272.25,411.96 272.50,389.23 272.76,359.49 273.01,327.24 273.27,297.49 273.52,274.77 273.78,262.18 274.03,273.07 274.28,293.08 274.53,318.36 274.78,343.65 275.03,363.66 275.28,374.55 275.56,369.47 275.83,360.15 276.11,348.36 276.38,336.58 276.66,327.26 276.93,322.18 277.17,324.28 277.41,328.09 277.65,331.90 277.89,334.00 278.16,330.39 278.44,323.75 278.71,315.36 278.99,306.98 279.26,300.34 279.54,296.73 279.79,302.36 280.05,312.32 280.31,325.58 280.57,340.64 280.82,355.69 281.08,368.96 281.34,378.91 281.59,384.55 281.87,379.96 282.14,371.86 282.42,361.07 282.69,348.82 282.97,336.57 283.24,325.77 283.51,317.67 283.79,313.09 283.96,313.74 284.13,314.91 284.30,316.08 284.47,316.73 284.72,311.88 284.97,302.91 285.21,292.36 285.46,283.39 285.71,278.55 285.96,289.16 286.22,308.32 286.47,333.40 286.73,360.60 286.98,385.68 287.24,404.84 287.49,415.45 287.77,404.04 288.04,383.05 288.31,356.55 288.59,330.04 288.86,309.05 289.14,297.64 289.39,303.33 289.64,313.79 289.89,327.00 290.14,340.21 290.40,350.67 290.65,356.36 290.87,350.99 291.09,341.03 291.31,329.33 291.52,319.37 291.74,314.00 291.99,320.99 292.24,333.93 292.48,349.16 292.73,362.10 292.98,369.09 293.21,358.33 293.44,338.54 293.66,313.55 293.89,288.55 294.12,268.76 294.35,258.00 294.62,272.50 294.90,299.15 295.17,332.82 295.45,366.49 295.72,393.14 296.00,407.64 296.25,397.95 296.51,380.47 296.76,357.59 297.01,332.78 297.27,309.89 297.52,292.41 297.78,282.73 298.08,288.85 298.38,299.22 298.68,313.18 298.98,329.77 299.28,347.73 299.57,365.69 299.87,382.27 300.17,396.24 300.47,406.60 300.77,412.73 301.03,403.85 301.29,388.17 301.54,367.27 301.80,343.55 302.06,319.82 302.31,298.92 302.57,283.24 302.83,274.36 303.06,282.13 303.29,296.41 303.51,314.45 303.74,332.50 303.97,346.78 304.20,354.55 304.43,349.82 304.66,341.15 304.89,330.18 305.11,319.22 305.34,310.54 305.57,305.82 305.85,310.72 306.12,319.72 306.40,331.09 306.67,342.46 306.94,351.47 307.22,356.36 307.48,352.66 307.73,346.10 307.99,337.37 308.25,327.45 308.50,317.54 308.76,308.81 309.02,302.25 309.28,298.55 309.53,305.45 309.78,317.92 310.04,334.24 310.29,351.94 310.55,368.26 310.80,380.73 311.06,387.64 311.33,382.00 311.61,371.64 311.88,358.55 312.16,345.45 312.43,335.09 312.70,329.45 312.94,330.42 313.18,332.18 313.42,333.94 313.66,334.91 313.89,332.71 314.12,328.66 314.35,323.55 314.58,318.43 314.81,314.38 315.04,312.18 315.27,317.87 315.49,328.33 315.72,341.55 315.95,354.76 316.18,365.22 316.41,370.91 316.66,360.25 316.91,340.66 317.16,315.91 317.41,291.16 317.67,271.57 317.92,260.91 318.15,273.95 318.37,297.91 318.60,328.18 318.83,358.45 319.06,382.42 319.29,395.45 319.52,382.28 319.75,358.05 319.97,327.45 320.20,296.85 320.43,272.63 320.66,259.45 320.93,270.49 321.21,290.42 321.48,316.50 321.76,344.77 322.03,370.86 322.31,390.78 322.58,401.82 322.87,398.61 323.15,393.40 323.44,386.39 323.72,377.92 324.01,368.41 324.29,358.36 324.58,348.32 324.87,338.81 325.15,330.34 325.44,323.33 325.72,318.12 326.01,314.91 326.23,318.78 326.45,325.96 326.67,334.40 326.89,341.58 327.11,345.45 327.36,337.44 327.61,322.70 327.86,304.09 328.11,285.48 328.36,270.74 328.62,262.73 328.87,274.18 329.12,295.23 329.37,321.82 329.62,348.41 329.87,369.46 330.12,380.91 330.38,373.90 330.63,361.01 330.88,344.73 331.13,328.45 331.38,315.56 331.63,308.55 331.88,318.49 332.13,336.90 332.37,358.55 332.62,376.97 332.87,386.91 333.10,377.64 333.32,360.61 333.55,339.09 333.78,317.57 334.01,300.54 334.24,291.27 334.49,298.81 334.74,312.67 334.99,330.18 335.25,347.69 335.50,361.55 335.75,369.09 335.98,366.62 336.21,362.09 336.43,356.36 336.66,350.64 336.89,346.10 337.12,343.64 337.33,344.28 337.53,345.45 337.74,346.63 337.94,347.27 338.22,344.84 338.49,340.37 338.77,334.73 339.04,329.08 339.31,324.61 339.59,322.18 339.83,323.96 340.07,327.18 340.31,330.41 340.55,332.18 340.80,328.63 341.06,322.22 341.31,313.82 341.57,304.72 341.82,296.33 342.08,289.92 342.33,286.36 342.61,292.49 342.88,303.57 343.15,318.05 343.43,333.76 343.70,348.25 343.98,359.32 344.25,365.45 344.55,363.55 344.85,360.47 345.14,356.32 345.44,351.30 345.74,345.67 346.04,339.73 346.33,333.78 346.63,328.15 346.93,323.13 347.22,318.99 347.52,315.90 347.82,314.00 348.07,317.05 348.32,322.65 348.57,329.73 348.82,336.80 349.08,342.41 349.33,345.45 349.57,341.93 349.82,335.39 350.07,327.70 350.31,321.16 350.56,317.64 350.81,324.12 351.06,336.04 351.32,351.09 351.57,366.15 351.82,378.06 352.07,384.55 352.33,377.57 352.58,365.24 352.84,348.82 353.10,330.18 353.36,311.54 353.61,295.12 353.87,282.79 354.13,275.82 354.41,278.66 354.70,283.27 354.99,289.47 355.27,296.97 355.56,305.38 355.84,314.27 356.13,323.16 356.41,331.58 356.70,339.07 356.99,345.28 357.27,349.89 357.56,352.73 357.81,351.18 358.06,348.33 358.31,344.73 358.56,341.13 358.81,338.28 359.07,336.73 359.34,338.28 359.61,341.13 359.89,344.73 360.16,348.33 360.44,351.18 360.71,352.73 361.00,349.70 361.28,344.78 361.57,338.17 361.85,330.18 362.14,321.21 362.43,311.73 362.71,302.25 363.00,293.28 363.28,285.28 363.57,278.67 363.86,273.76 364.14,270.73 364.40,278.44 364.66,292.06 364.91,310.21 365.17,330.82 365.43,351.42 365.68,369.58 365.94,383.20 366.20,390.91 366.43,383.28 366.66,369.26 366.88,351.55 367.11,333.83 367.34,319.81 367.57,312.18 367.84,317.87 368.12,328.33 368.39,341.55 368.67,354.76 368.94,365.22 369.22,370.91 369.44,364.96 369.65,353.94 369.87,340.97 370.09,329.95 370.31,324.00 370.57,326.49 370.83,331.11 371.10,336.53 371.36,341.15 371.62,343.64 371.87,340.00 372.13,333.43 372.38,324.84 372.64,315.52 372.89,306.93 373.14,300.36 373.40,296.73 373.70,298.92 374.00,302.24 374.30,306.64 374.60,311.99 374.90,318.17 375.20,324.98 375.50,332.24 375.80,339.73 376.10,347.21 376.40,354.47 376.70,361.29 377.00,367.46 377.30,372.82 377.60,377.21 377.90,380.54 378.20,382.73 378.47,377.80 378.75,369.28 379.02,357.83 379.30,344.47 379.57,330.44 379.85,317.08 380.12,305.63 380.39,297.11 380.67,292.18 380.94,295.96 381.22,302.78 381.49,311.71 381.77,321.38 382.04,330.31 382.32,337.13 382.59,340.91 382.85,339.24 383.10,336.29 383.36,332.37 383.62,327.91 383.88,323.45 384.13,319.52 384.39,316.58 384.65,314.91 384.90,320.17 385.16,329.66 385.41,342.08 385.67,355.55 385.92,367.98 386.18,377.47 386.43,382.73 386.68,376.84 386.94,366.20 387.19,352.27 387.45,337.18 387.70,323.26 387.96,312.62 388.21,306.73 388.44,313.03 388.67,324.63 388.90,339.27 389.13,353.92 389.36,365.51 389.58,371.82 389.86,364.31 390.13,350.52 390.41,333.09 390.68,315.66 390.96,301.87 391.23,294.36 391.49,300.02 391.74,310.22 392.00,323.58 392.25,338.06 392.50,351.42 392.76,361.62 393.01,367.27 393.27,360.04 393.52,346.99 393.78,329.90 394.03,311.37 394.29,294.29 394.54,281.23 394.80,274.00 395.07,285.33 395.35,306.15 395.62,332.45 395.89,358.76 396.17,379.58 396.44,390.91 396.72,379.72 396.99,359.16 397.27,333.18 397.54,307.20 397.81,286.64 398.09,275.45 398.36,289.90 398.64,316.45 398.91,350.00 399.19,383.55 399.46,410.10 399.73,424.55 399.99,411.96 400.24,389.23 400.50,359.49 400.75,327.24 401.01,297.49 401.26,274.77 401.52,262.18 401.77,272.89 402.02,292.58 402.27,317.45 402.52,342.33 402.78,362.02 403.03,372.73 403.30,367.74 403.58,358.58 403.85,347.00 404.12,335.42 404.40,326.26 404.67,321.27 404.91,326.21 405.15,335.18 405.39,344.15 405.63,349.09 405.91,344.02 406.18,334.69 406.46,322.91 406.73,311.13 407.00,301.80 407.28,296.73 407.54,302.36 407.79,312.32 408.05,325.58 408.31,340.64 408.56,355.69 408.82,368.96 409.08,378.91 409.34,384.55 409.61,379.96 409.89,371.86 410.16,361.07 410.43,348.82 410.71,336.57 410.98,325.77 411.26,317.67 411.53,313.09 411.70,313.74 411.87,314.91 412.05,316.08 412.22,316.73 412.46,311.88 412.71,302.91 412.96,292.36 413.20,283.39 413.45,278.55 413.71,289.16 413.96,308.32 414.22,333.40 414.47,360.60 414.72,385.68 414.98,404.84 415.23,415.45 415.51,404.04 415.78,383.05 416.06,356.55 416.33,330.04 416.61,309.05 416.88,297.64 417.13,303.68 417.38,314.79 417.63,328.82 417.89,342.85 418.14,353.96 418.39,360.00 418.61,354.05 418.83,343.03 419.05,330.06 419.27,319.04 419.49,313.09 419.73,320.19 419.98,333.35 420.23,348.83 420.47,361.99 420.72,369.09 420.95,358.33 421.18,338.54 421.41,313.55 421.64,288.55 421.86,268.76 422.09,258.00 422.37,272.50 422.64,299.15 422.92,332.82 423.19,366.49 423.46,393.14 423.74,407.64 423.99,397.07 424.25,377.98 424.50,353.00 424.76,325.91 425.01,300.93 425.27,281.84 425.52,271.27 425.79,276.93 426.07,286.29 426.34,298.90 426.61,314.05 426.89,330.80 427.16,348.11 427.43,364.86 427.71,380.01 427.98,392.62 428.25,401.98 428.53,407.64 428.73,396.73 428.93,376.52 429.14,352.75 429.34,332.54 429.55,321.64 429.81,324.26 430.06,328.99 430.32,335.19 430.58,341.90 430.84,348.10 431.10,352.83 431.36,355.45 431.65,354.56 431.94,353.10 432.23,351.15 432.52,348.78 432.80,346.12 433.09,343.32 433.38,340.51 433.67,337.86 433.96,335.49 434.24,333.54 434.53,332.08 434.82,331.18 435.04,331.74 435.26,332.76 435.47,333.97 435.69,334.99 435.91,335.55 436.16,334.70 436.42,333.15 436.67,331.18 436.93,329.22 437.18,327.67 437.44,326.82 437.71,327.66 437.98,329.14 438.26,331.12 438.53,333.37 438.80,335.61 439.07,337.59 439.35,339.07 439.62,339.91 439.87,339.32 440.12,338.25 440.37,336.85 440.62,335.33 440.87,333.94 441.12,332.87 441.36,332.27 441.62,332.80 441.87,333.77 442.13,335.00 442.38,336.23 442.64,337.20 442.89,337.73 443.15,337.45 443.42,336.94 443.68,336.34 443.94,335.82 444.20,335.55 444.46,335.86 444.71,336.45 444.97,337.18 445.22,337.92 445.47,338.50 445.73,338.82 445.98,338.48 446.23,337.87 446.48,337.07 446.73,336.21 446.98,335.41 447.22,334.79 447.47,334.46 447.73,334.67 447.98,335.06 448.24,335.55 448.49,336.04 448.75,336.43 449.00,336.64 449.27,336.15 449.55,335.28 449.82,334.13 450.09,332.82 450.37,331.51 450.64,330.36 450.91,329.49 451.18,329.00 451.47,329.46 451.75,330.25 452.03,331.30 452.32,332.55 452.60,333.91 452.89,335.27 453.17,336.52 453.45,337.58 453.74,338.36 454.02,338.82 454.31,338.46 454.60,337.85 454.89,337.02 455.18,336.05 455.47,335.04 455.77,334.07 456.06,333.25 456.35,332.63 456.64,332.27 456.94,332.64 457.23,333.24 457.53,334.04 457.83,335.01 458.13,336.08 458.42,337.19 458.72,338.26 459.02,339.23 459.32,340.04 459.61,340.64 459.91,341.00 460.20,340.39 460.48,339.34 460.76,337.94 461.05,336.27 461.33,334.46 461.61,332.65 461.90,330.98 462.18,329.57 462.46,328.53 462.75,327.91 463.04,328.39 463.33,329.21 463.62,330.31 463.91,331.60 464.20,332.95 464.49,334.24 464.78,335.34 465.08,336.16 465.37,336.64 465.62,336.47 465.87,336.16 466.11,335.76 466.36,335.33 466.61,334.93 466.86,334.63 467.11,334.46 467.40,334.69 467.69,335.10 467.98,335.66 468.28,336.30 468.57,336.98 468.86,337.62 469.15,338.17 469.44,338.58 469.73,338.82 470.01,338.26 470.30,337.30 470.58,336.01 470.87,334.48 471.15,332.82 471.43,331.16 471.72,329.63 472.00,328.34 472.28,327.39 472.57,326.82 472.84,327.45 473.12,328.50 473.40,329.91 473.68,331.61 473.96,333.49 474.23,335.43 474.51,337.30 474.79,339.00 475.07,340.41 475.34,341.46 475.62,342.09 475.91,341.68 476.19,340.99 476.47,340.05 476.76,338.94 477.04,337.73 477.32,336.52 477.61,335.41 477.89,334.47 478.17,333.78 478.46,333.37 478.71,333.79 478.97,334.57 479.22,335.55 479.48,336.53 479.73,337.31 479.99,337.73 480.25,337.25 480.52,336.43 480.79,335.33 481.05,334.04 481.32,332.69 481.59,331.40 481.85,330.30 482.12,329.48 482.39,329.00 482.69,329.31 482.99,329.77 483.29,330.38 483.59,331.13 483.89,331.99 484.19,332.94 484.49,333.96 484.79,335.00 485.09,336.05 485.39,337.06 485.69,338.01 485.99,338.87 486.29,339.62 486.59,340.23 486.89,340.70 487.19,341.00 487.48,340.29 487.77,339.06 488.06,337.40 488.35,335.47 488.64,333.44 488.93,331.51 489.22,329.86 489.51,328.62 489.80,327.91 490.10,328.23 490.40,328.75 490.70,329.46 490.99,330.31 491.29,331.24 491.59,332.21 491.89,333.15 492.19,334.00 492.48,334.71 492.78,335.23 493.08,335.55 493.33,335.38 493.58,335.07 493.83,334.67 494.08,334.24 494.32,333.84 494.57,333.53 494.82,333.37 495.10,333.72 495.37,334.33 495.64,335.16 495.91,336.09 496.19,337.03 496.46,337.85 496.73,338.47 497.01,338.82 497.28,338.40 497.55,337.66 497.82,336.67 498.10,335.55 498.37,334.43 498.64,333.44 498.91,332.69 499.19,332.27 499.44,332.70 499.69,333.46 499.94,334.46 500.18,335.54 500.43,336.54 500.68,337.31 500.93,337.73 501.21,337.31 501.48,336.57 501.75,335.58 502.02,334.46 502.30,333.33 502.57,332.35 502.84,331.60 503.11,331.18 503.37,331.71 503.62,332.68 503.88,333.91 504.13,335.14 504.39,336.11 504.64,336.64 504.90,336.00 505.15,334.84 505.41,333.37 505.66,331.89 505.91,330.73 506.17,330.09 506.45,330.76 506.74,331.89 507.02,333.42 507.30,335.22 507.59,337.18 507.87,339.14 508.16,340.95 508.44,342.48 508.72,343.61 509.01,344.28 509.26,342.84 509.50,340.24 509.75,336.84 510.00,333.16 510.25,329.76 510.50,327.17 510.75,325.73 511.04,326.38 511.33,327.51 511.62,329.03 511.92,330.80 512.21,332.66 512.50,334.43 512.79,335.95 513.08,337.08 513.37,337.73 513.65,337.47 513.94,337.04 514.22,336.45 514.50,335.76 514.79,335.00 515.07,334.25 515.36,333.55 515.64,332.97 515.92,332.53 516.21,332.27 516.48,332.69 516.75,333.44 517.02,334.43 517.30,335.55 517.57,336.67 517.84,337.66 518.12,338.40 518.39,338.82 518.68,338.29 518.97,337.36 519.26,336.12 519.55,334.67 519.84,333.15 520.13,331.70 520.43,330.46 520.72,329.54 521.01,329.00 521.30,329.63 521.60,330.68 521.90,332.10 522.20,333.79 522.49,335.67 522.79,337.61 523.09,339.48 523.39,341.18 523.68,342.59 523.98,343.64 524.28,344.28 524.55,343.44 524.83,341.95 525.10,339.97 525.37,337.73 525.64,335.49 525.92,333.51 526.19,332.02 526.46,331.18 526.72,331.82 526.97,332.98 527.23,334.46 527.48,335.93 527.73,337.10 527.99,337.73 528.24,337.14 528.49,336.07 528.74,334.67 528.99,333.15 529.24,331.75 529.49,330.68 529.73,330.09 530.00,331.06 530.26,332.86 530.52,334.97 530.78,336.76 531.04,337.73 531.26,335.79 531.48,332.27 531.70,328.76 531.92,326.82 532.17,328.41 532.43,331.32 532.68,335.00 532.94,338.68 533.19,341.60 533.44,343.18 533.71,341.25 533.97,337.66 534.23,333.44 534.49,329.85 534.75,327.91 535.01,329.28 535.26,331.81 535.52,335.00 535.77,338.19 536.03,340.72 536.28,342.09 536.50,340.54 536.72,337.73 536.94,334.92 537.15,333.37" fill="none" stroke="#0072BD" stroke-width="0.8" stroke-linejoin="round"/><text transform="translate(28.70,211.40) rotate(0.05) scale(1,1.03)" text-anchor="middle" font-size="13.9" fill="#3c3c3c">0</text><text transform="translate(113.36,211.40) rotate(0.05) scale(1,1.03)" text-anchor="middle" font-size="13.9" fill="#3c3c3c">5</text><text transform="translate(198.03,211.40) rotate(0.05) scale(1,1.03)" text-anchor="middle" font-size="13.9" fill="#3c3c3c">10</text><text transform="translate(282.69,211.40) rotate(0.05) scale(1,1.03)" text-anchor="middle" font-size="13.9" fill="#3c3c3c">15</text><text transform="translate(367.36,211.40) rotate(0.05) scale(1,1.03)" text-anchor="middle" font-size="13.9" fill="#3c3c3c">20</text><text transform="translate(452.02,211.40) rotate(0.05) scale(1,1.03)" text-anchor="middle" font-size="13.9" fill="#3c3c3c">25</text><text transform="translate(536.69,211.40) rotate(0.05) scale(1,1.03)" text-anchor="middle" font-size="13.9" fill="#3c3c3c">30</text><text transform="translate(23.90,181.80) rotate(0.05) scale(1,1.03)" text-anchor="end" font-size="13.9" fill="#3c3c3c">-10</text><text transform="translate(23.90,144.18) rotate(0.05) scale(1,1.03)" text-anchor="end" font-size="13.9" fill="#3c3c3c">-5</text><text transform="translate(23.90,106.55) rotate(0.05) scale(1,1.03)" text-anchor="end" font-size="13.9" fill="#3c3c3c">0</text><text transform="translate(23.90,68.92) rotate(0.05) scale(1,1.03)" text-anchor="end" font-size="13.9" fill="#3c3c3c">5</text><text transform="translate(23.90,31.30) rotate(0.05) scale(1,1.03)" text-anchor="end" font-size="13.9" fill="#3c3c3c">10</text><text transform="translate(28.70,444.50) rotate(0.05) scale(1,1.03)" text-anchor="middle" font-size="13.9" fill="#3c3c3c">0</text><text transform="translate(92.61,444.50) rotate(0.05) scale(1,1.03)" text-anchor="middle" font-size="13.9" fill="#3c3c3c">5</text><text transform="translate(156.53,444.50) rotate(0.05) scale(1,1.03)" text-anchor="middle" font-size="13.9" fill="#3c3c3c">10</text><text transform="translate(220.44,444.50) rotate(0.05) scale(1,1.03)" text-anchor="middle" font-size="13.9" fill="#3c3c3c">15</text><text transform="translate(284.36,444.50) rotate(0.05) scale(1,1.03)" text-anchor="middle" font-size="13.9" fill="#3c3c3c">20</text><text transform="translate(348.27,444.50) rotate(0.05) scale(1,1.03)" text-anchor="middle" font-size="13.9" fill="#3c3c3c">25</text><text transform="translate(412.19,444.50) rotate(0.05) scale(1,1.03)" text-anchor="middle" font-size="13.9" fill="#3c3c3c">30</text><text transform="translate(476.10,444.50) rotate(0.05) scale(1,1.03)" text-anchor="middle" font-size="13.9" fill="#3c3c3c">35</text><text transform="translate(23.90,413.20) rotate(0.05) scale(1,1.03)" text-anchor="end" font-size="13.9" fill="#3c3c3c">-10</text><text transform="translate(23.90,377.40) rotate(0.05) scale(1,1.03)" text-anchor="end" font-size="13.9" fill="#3c3c3c">-5</text><text transform="translate(23.90,341.60) rotate(0.05) scale(1,1.03)" text-anchor="end" font-size="13.9" fill="#3c3c3c">0</text><text transform="translate(23.90,305.80) rotate(0.05) scale(1,1.03)" text-anchor="end" font-size="13.9" fill="#3c3c3c">5</text><text transform="translate(23.90,270.00) rotate(0.05) scale(1,1.03)" text-anchor="end" font-size="13.9" fill="#3c3c3c">10</text><text transform="translate(283.00,17.80) rotate(0.05) scale(1,1.04)" text-anchor="middle" font-size="15.4" fill="#3c3c3c">Transmitted Signal</text><text transform="translate(283.00,250.60) rotate(0.05) scale(1,1.04)" text-anchor="middle" font-size="15.4" fill="#3c3c3c">Received Signal Sample</text><text transform="translate(283.00,465.00) rotate(0.05) scale(1,1.04)" text-anchor="middle" font-size="15.4" fill="#3c3c3c">Time (ms)</text></svg>
</body></html>
